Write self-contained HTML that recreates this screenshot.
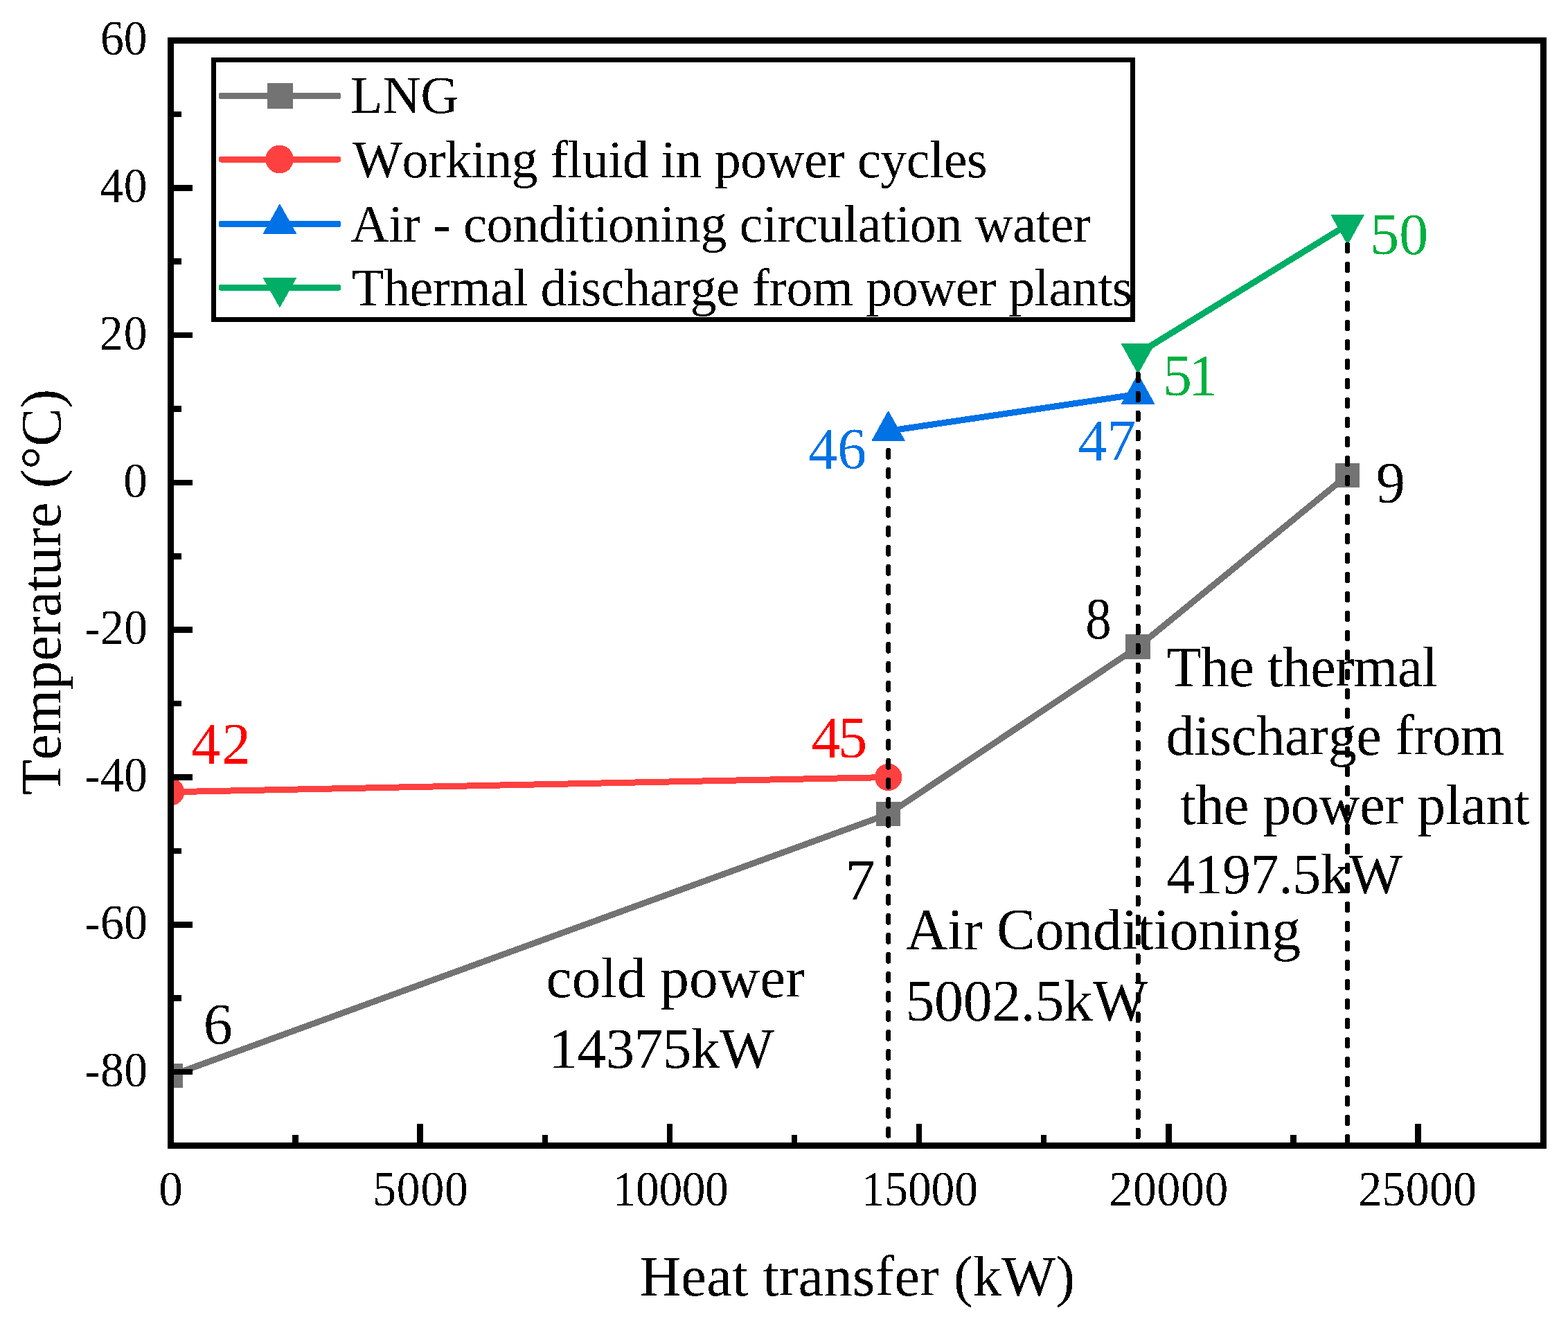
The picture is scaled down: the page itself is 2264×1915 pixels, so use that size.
<!DOCTYPE html>
<html><head><meta charset="utf-8"><title>Temperature vs heat transfer</title>
<style>html,body{margin:0;padding:0;background:#fff;overflow:hidden;}svg{display:block;}text{white-space:pre;font-kerning:none;}</style>
</head><body>
<svg width="2264" height="1915" viewBox="0 0 2264 1915" shape-rendering="crispEdges">
<rect width="2264" height="1915" fill="#fff"/>
<defs><filter id="bin" x="0" y="0" width="2264" height="1915" filterUnits="userSpaceOnUse"><feComponentTransfer><feFuncA type="discrete" tableValues="0 1"/></feComponentTransfer></filter><clipPath id="pc"><rect x="246.5" y="58.5" width="1982" height="1596"/></clipPath></defs>
<g clip-path="url(#pc)">
<polyline points="246.5,1553.42 1282.6,1175.7 1643.16,934.17 1945.7,686.26" fill="none" stroke="#737373" stroke-width="9" stroke-linejoin="round"/>
<polyline points="246.5,1143.78 1282.6,1122.5" fill="none" stroke="#FF4040" stroke-width="9" stroke-linejoin="round"/>
<polyline points="1282.6,622.42 1643.16,569.22" fill="none" stroke="#0072E6" stroke-width="9" stroke-linejoin="round"/>
<polyline points="1643.16,510.7 1945.7,324.5" fill="none" stroke="#00AE66" stroke-width="9" stroke-linejoin="round"/>
<rect x="228.75" y="1535.67" width="35.5" height="35.5" fill="#737373"/>
<rect x="1264.85" y="1157.95" width="35.5" height="35.5" fill="#737373"/>
<rect x="1625.41" y="916.42" width="35.5" height="35.5" fill="#737373"/>
<rect x="1927.95" y="668.51" width="35.5" height="35.5" fill="#737373"/>
<circle cx="246.5" cy="1143.78" r="19.7" fill="#FF4040"/>
<circle cx="1282.6" cy="1122.5" r="19.7" fill="#FF4040"/>
<polygon points="1282.6,594.75 1305.6,636.25 1259.6,636.25" fill="#0072E6" stroke="#0072E6" stroke-width="2" stroke-linejoin="round"/>
<polygon points="1643.16,541.55 1666.16,583.05 1620.16,583.05" fill="#0072E6" stroke="#0072E6" stroke-width="2" stroke-linejoin="round"/>
<polygon points="1620.16,496.87 1666.16,496.87 1643.16,538.37" fill="#00AE66" stroke="#00AE66" stroke-width="2" stroke-linejoin="round"/>
<polygon points="1922.7,310.67 1968.7,310.67 1945.7,352.17" fill="#00AE66" stroke="#00AE66" stroke-width="2" stroke-linejoin="round"/>
</g>
<line x1="1282.6" y1="650.4" x2="1282.6" y2="1644" stroke="#000" stroke-width="7" stroke-dasharray="10 18" stroke-linecap="round"/>
<line x1="1643.16" y1="540" x2="1643.16" y2="1645" stroke="#000" stroke-width="7" stroke-dasharray="10 18" stroke-linecap="round"/>
<line x1="1945.7" y1="353" x2="1945.7" y2="1654.5" stroke="#000" stroke-width="7" stroke-dasharray="10 18" stroke-linecap="round"/>
<rect x="246.5" y="58.5" width="1982" height="1596" fill="none" stroke="#000" stroke-width="8.8"/>
<path d="M246.5,1650V1623 M426.6,1650V1639 M606.7,1650V1623 M786.8,1650V1639 M966.9,1650V1623 M1147,1650V1639 M1327.1,1650V1623 M1507.2,1650V1639 M1687.3,1650V1623 M1867.4,1650V1639 M2047.5,1650V1623 M251,58.5H278 M251,164.9H262 M251,271.3H278 M251,377.7H262 M251,484.1H278 M251,590.5H262 M251,696.9H278 M251,803.3H262 M251,909.7H278 M251,1016.1H262 M251,1122.5H278 M251,1228.9H262 M251,1335.3H278 M251,1441.7H262 M251,1548.1H278 M251,1654.5H262" stroke="#000" stroke-width="8.5" fill="none"/>
<g font-family='"Liberation Serif", "Times New Roman", serif' fill="#000" filter="url(#bin)">
<text transform="translate(145,79.1) scale(1,1.05)" font-size="67.5" textLength="67.6" lengthAdjust="spacing">60</text>
<text transform="translate(144.3,291.9) scale(1,1.05)" font-size="67.5" textLength="68.3" lengthAdjust="spacing">40</text>
<text transform="translate(143.7,504.7) scale(1,1.05)" font-size="67.5" textLength="68.9" lengthAdjust="spacing">20</text>
<text transform="translate(178.33,717.5) scale(1,1.05)" font-size="67.5" textLength="34.59" lengthAdjust="spacingAndGlyphs">0</text>
<text transform="translate(122,930.3) scale(1,1.05)" font-size="67.5" textLength="91.08" lengthAdjust="spacing">-20</text>
<text transform="translate(122,1143.1) scale(1,1.05)" font-size="67.5" textLength="91.08" lengthAdjust="spacing">-40</text>
<text transform="translate(122,1355.9) scale(1,1.05)" font-size="67.5" textLength="91.08" lengthAdjust="spacing">-60</text>
<text transform="translate(122,1568.7) scale(1,1.05)" font-size="67.5" textLength="91.08" lengthAdjust="spacing">-80</text>
<text transform="translate(229.33,1740.6) scale(1,1.05)" font-size="67.5" textLength="34.59" lengthAdjust="spacingAndGlyphs">0</text>
<text transform="translate(538.3,1740.6) scale(1,1.05)" font-size="67.5" textLength="137.4" lengthAdjust="spacing">5000</text>
<text transform="translate(884.8,1740.6) scale(1,1.05)" font-size="67.5" textLength="166.95" lengthAdjust="spacing">10000</text>
<text transform="translate(1243.75,1740.6) scale(1,1.05)" font-size="67.5" textLength="168.25" lengthAdjust="spacing">15000</text>
<text transform="translate(1601.5,1740.6) scale(1,1.05)" font-size="67.5" textLength="171.85" lengthAdjust="spacing">20000</text>
<text transform="translate(1961.4,1740.6) scale(1,1.05)" font-size="67.5" textLength="170.55" lengthAdjust="spacing">25000</text>
<text transform="translate(87.1,1148.1) rotate(-90)" x="0" y="0" font-size="83.5" textLength="586.29" lengthAdjust="spacing">Temperature (°C)</text>
</g>
<rect x="308.5" y="86.5" width="1326.5" height="374.8" fill="#fff" stroke="#000" stroke-width="7"/>
<rect x="316" y="133.9" width="176" height="9" rx="3" fill="#737373"/>
<rect x="385.9" y="119.9" width="37" height="37" fill="#737373"/>
<rect x="316" y="225.5" width="176" height="9" rx="3" fill="#FF4040"/>
<circle cx="403.6" cy="230" r="20.3" fill="#FF4040"/>
<rect x="316" y="318.9" width="176" height="9" rx="3" fill="#0072E6"/>
<polygon points="403.9,296.07 426.9,337.07 380.9,337.07" fill="#0072E6" stroke="#0072E6" stroke-width="2" stroke-linejoin="round"/>
<rect x="316" y="410.8" width="176" height="9" rx="3" fill="#00AE66"/>
<polygon points="380.9,401.63 426.9,401.63 403.9,442.63" fill="#00AE66" stroke="#00AE66" stroke-width="2" stroke-linejoin="round"/>
<g font-family='"Liberation Serif", "Times New Roman", serif' fill="#000" filter="url(#bin)">
<text x="506" y="163" font-size="76" textLength="156.1" lengthAdjust="spacing">LNG</text>
<text x="509.3" y="256" font-size="76" textLength="916.33" lengthAdjust="spacing">Working fluid in power cycles</text>
<text x="506.4" y="348.6" font-size="76" textLength="1068.76" lengthAdjust="spacing">Air - conditioning circulation water</text>
<text x="508" y="440.7" font-size="76" textLength="1127.43" lengthAdjust="spacing">Thermal discharge from power plants</text>
<text x="923.4" y="1870.6" font-size="82.7" textLength="628.71" lengthAdjust="spacing">Heat transfer (kW)</text>
<text x="293.64" y="1507.5" font-size="85" textLength="42.03" lengthAdjust="spacingAndGlyphs">6</text>
<text x="1220.84" y="1300.3" font-size="84" textLength="43.11" lengthAdjust="spacingAndGlyphs">7</text>
<text x="1567.33" y="922.4" font-size="84" textLength="37.45" lengthAdjust="spacingAndGlyphs">8</text>
<text x="1986.68" y="726.2" font-size="84" textLength="42.23" lengthAdjust="spacingAndGlyphs">9</text>
<text x="275.9" y="1102.9" font-size="84" textLength="86.1" lengthAdjust="spacing" fill="#FF0000">42</text>
<text x="1171.8" y="1094" font-size="84" textLength="80.4" lengthAdjust="spacing" fill="#FF0000">45</text>
<text x="1167" y="676.6" font-size="84" textLength="84.1" lengthAdjust="spacing" fill="#0072E6">46</text>
<text x="1556.7" y="665.2" font-size="84" textLength="83.2" lengthAdjust="spacing" fill="#0072E6">47</text>
<text x="1978.3" y="366.8" font-size="84" textLength="84" lengthAdjust="spacing" fill="#00B040">50</text>
<text x="1679.1" y="571" font-size="84" textLength="79" lengthAdjust="spacing" fill="#00B040">51</text>
<text x="788.6" y="1440.2" font-size="83.5" textLength="373.41" lengthAdjust="spacing">cold power</text>
<text x="792.1" y="1542.4" font-size="83.5" textLength="325.71" lengthAdjust="spacing">14375kW</text>
<text x="1307.7" y="1371.4" font-size="84" textLength="570.46" lengthAdjust="spacing">Air Conditioning</text>
<text x="1307.4" y="1474.1" font-size="84" textLength="349.6" lengthAdjust="spacing">5002.5kW</text>
<text x="1684.7" y="991.1" font-size="82" textLength="391.44" lengthAdjust="spacing">The thermal</text>
<text x="1683.6" y="1090" font-size="82" textLength="488.99" lengthAdjust="spacing">discharge from</text>
<text x="1683.9" y="1189.9" font-size="82" textLength="524.96" lengthAdjust="spacing"> the power plant</text>
<text x="1684" y="1289.6" font-size="82" textLength="340.81" lengthAdjust="spacing">4197.5kW</text>
</g>
</svg>
</body></html>
